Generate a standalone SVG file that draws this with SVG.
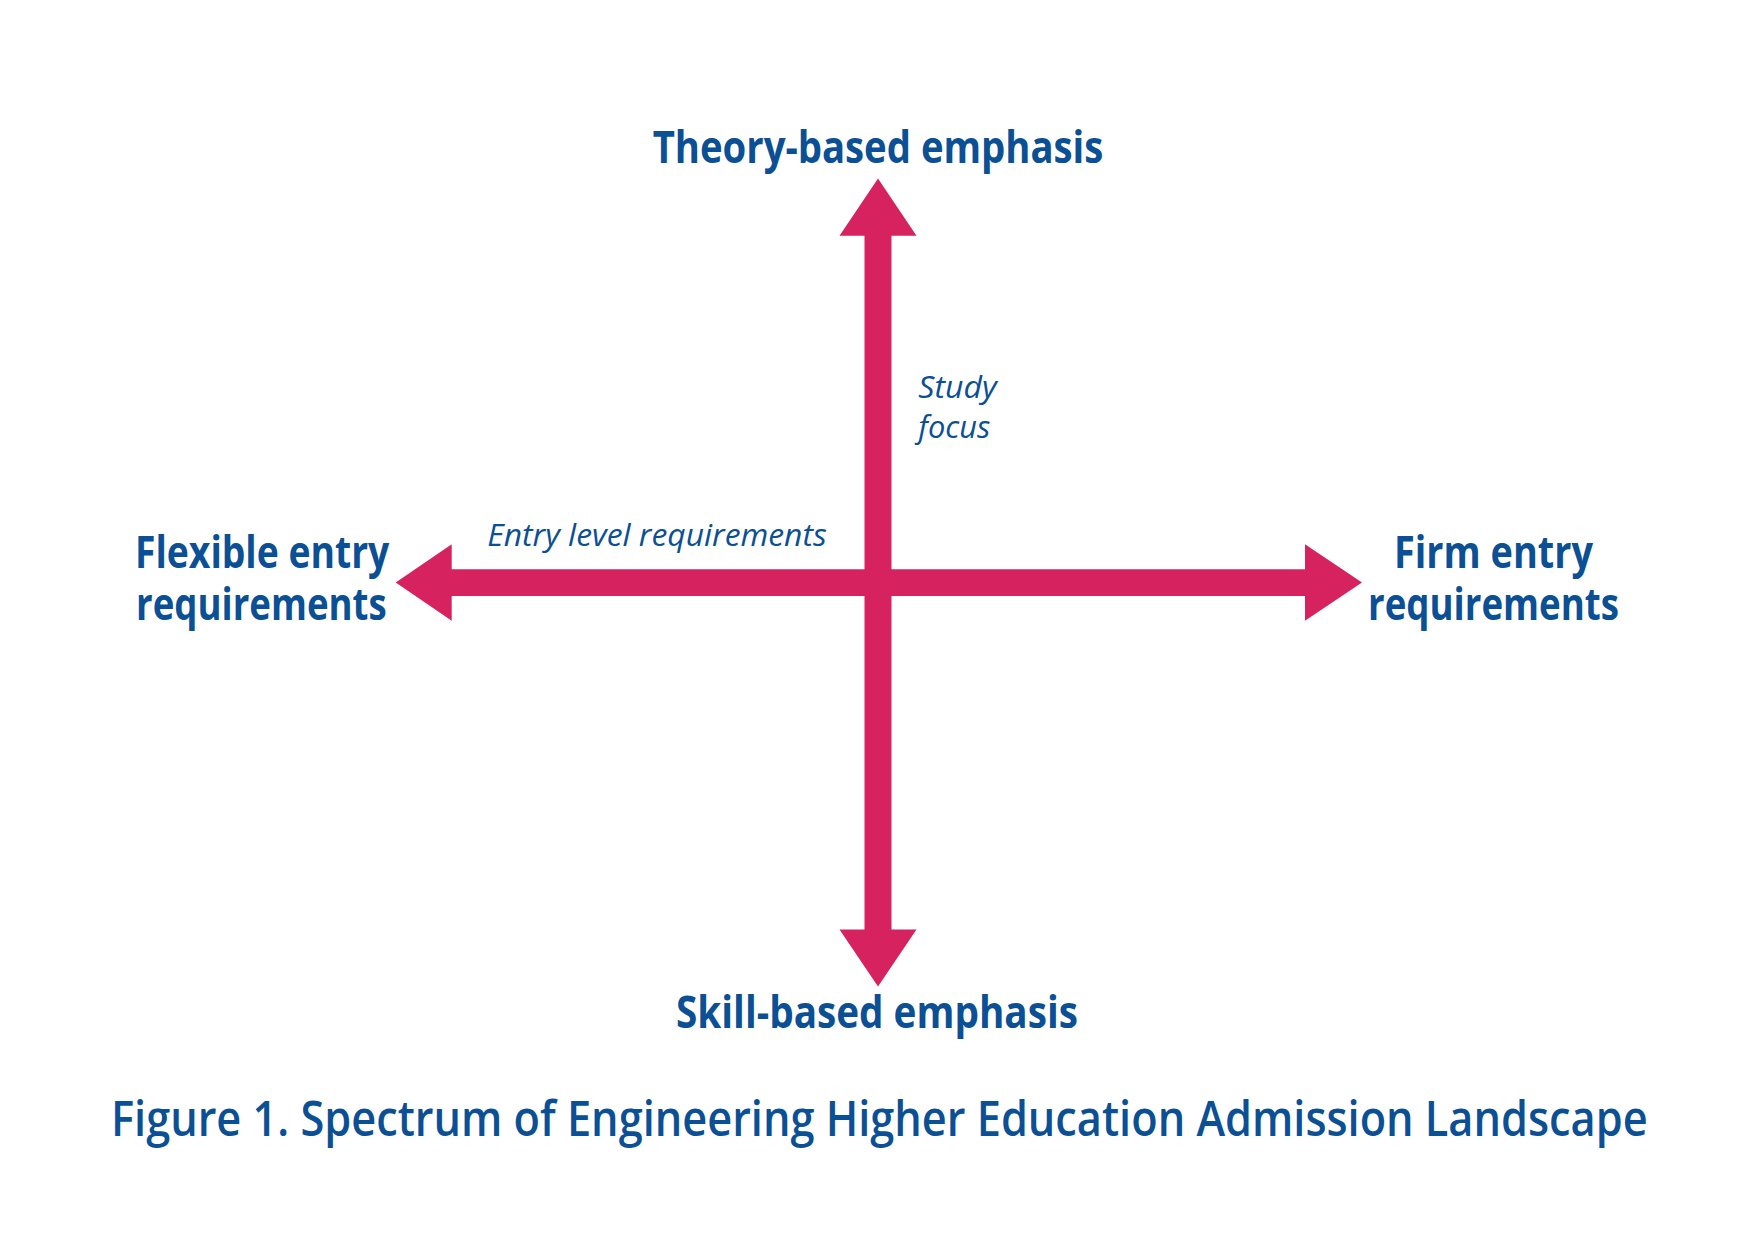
<svg xmlns="http://www.w3.org/2000/svg" width="1755" height="1240" viewBox="0 0 1755 1240">
  <style>
    .lbl { font-family: "Open Sans", "Liberation Sans", sans-serif; font-weight: 700; font-size: 44px; fill: #0B4F94; }
    .ital { font-family: "Open Sans", "Liberation Sans", sans-serif; font-style: italic; font-weight: 400; font-size: 31px; fill: #0B4F94; }
    .cap { font-family: "Open Sans", "Liberation Sans", sans-serif; font-weight: 600; font-size: 48px; fill: #0B4F94; }
    .arrow { fill: #D6225F; }
  </style>
  <rect width="1755" height="1240" fill="#FFFFFF"/>
  <g id="connectors">
    <polygon class="arrow" points="878,178.5 916.5,235.7 891.5,235.7 891.5,929.5 916.5,929.5 878,986.5 839.5,929.5 864.5,929.5 864.5,235.7 839.5,235.7"/>
    <polygon class="arrow" points="395.7,582.6 451.7,544.3 451.7,569.3 1305,569.3 1305,544.3 1362,582.6 1305,620.8 1305,596 451.7,596 451.7,620.8"/>
  </g>
  <g id="node-theory">
    <text class="lbl" x="652.7" y="163.3" textLength="450.6" lengthAdjust="spacingAndGlyphs">Theory-based emphasis</text>
  </g>
  <g id="node-skill">
    <text class="lbl" x="676" y="1028" textLength="402" lengthAdjust="spacingAndGlyphs">Skill-based emphasis</text>
  </g>
  <g id="node-flexible">
    <text class="lbl" x="135" y="568.3" textLength="254.3" lengthAdjust="spacingAndGlyphs">Flexible entry</text>
    <text class="lbl" x="136" y="620" textLength="250.7" lengthAdjust="spacingAndGlyphs">requirements</text>
  </g>
  <g id="node-firm">
    <text class="lbl" x="1394" y="567.5" textLength="199" lengthAdjust="spacingAndGlyphs">Firm entry</text>
    <text class="lbl" x="1368" y="619.5" textLength="251" lengthAdjust="spacingAndGlyphs">requirements</text>
  </g>
  <g id="label-entry-level">
    <text class="ital" x="487.3" y="545.7" textLength="339.4" lengthAdjust="spacingAndGlyphs">Entry level requirements</text>
  </g>
  <g id="label-study-focus">
    <text class="ital" x="918.3" y="398.3" textLength="78.4" lengthAdjust="spacingAndGlyphs">Study</text>
    <text class="ital" x="918.3" y="438.3" textLength="72" lengthAdjust="spacingAndGlyphs">focus</text>
  </g>
  <g id="caption">
    <text class="cap" x="111" y="1135.5" textLength="1536.6" lengthAdjust="spacingAndGlyphs">Figure 1. Spectrum of Engineering Higher Education Admission Landscape</text>
  </g>
</svg>
